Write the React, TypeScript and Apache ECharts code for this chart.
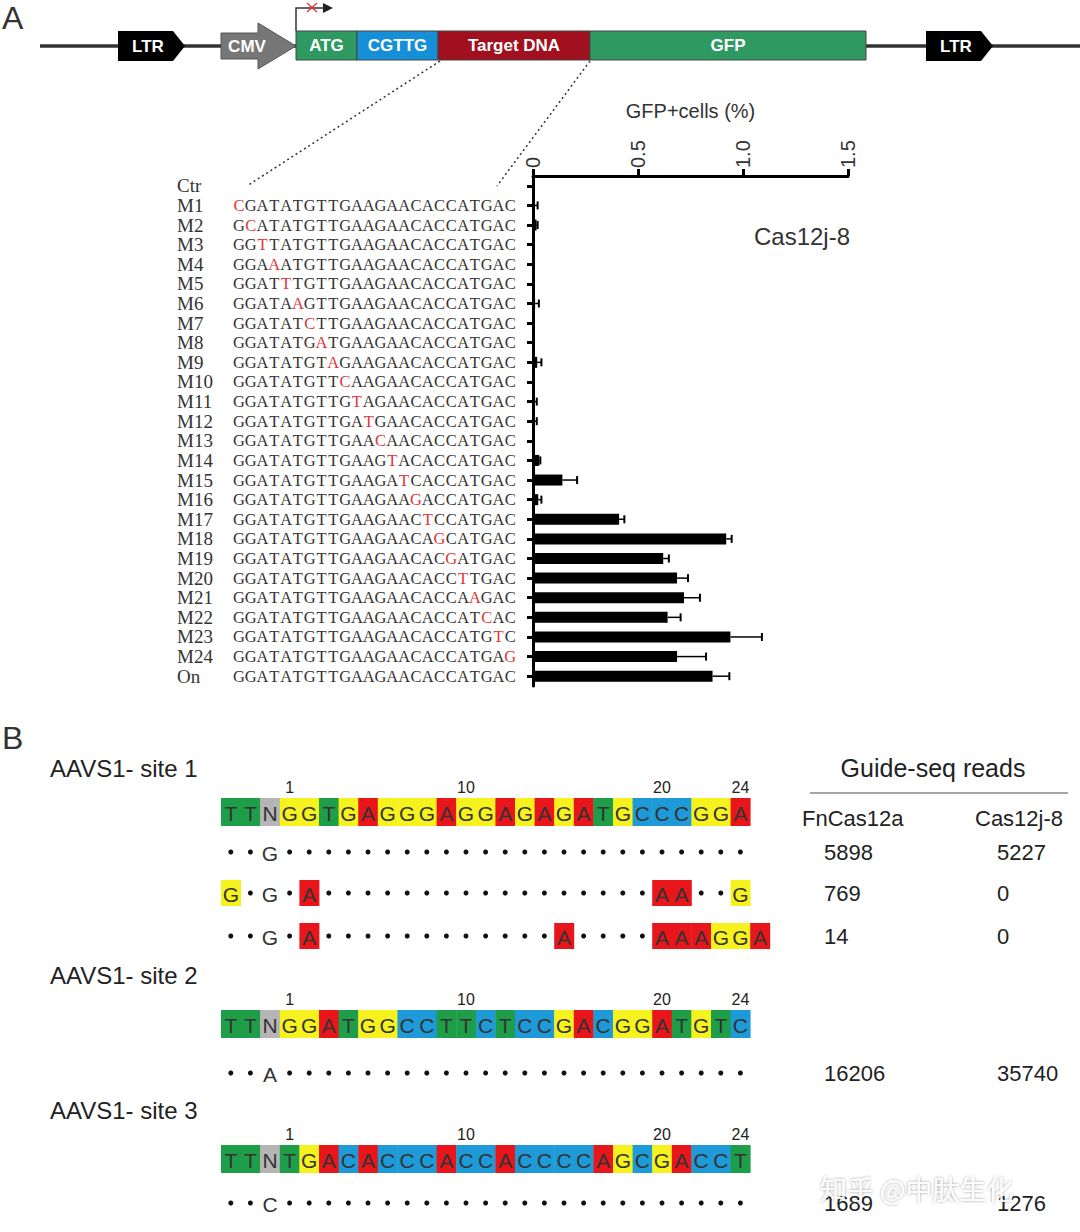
import React, { useEffect, useRef } from "react";
import * as echarts from "echarts";

// ---------- Panel A data ----------
const categories = ["Ctr", "M1", "M2", "M3", "M4", "M5", "M6", "M7", "M8", "M9", "M10", "M11", "M12", "M13", "M14", "M15", "M16", "M17", "M18", "M19", "M20", "M21", "M22", "M23", "M24", "On"];
const sequences = [
  "",
  "CGATATGTTGAAGAACACCATGAC",
  "GCATATGTTGAAGAACACCATGAC",
  "GGTTATGTTGAAGAACACCATGAC",
  "GGAAATGTTGAAGAACACCATGAC",
  "GGATTTGTTGAAGAACACCATGAC",
  "GGATAAGTTGAAGAACACCATGAC",
  "GGATATCTTGAAGAACACCATGAC",
  "GGATATGATGAAGAACACCATGAC",
  "GGATATGTAGAAGAACACCATGAC",
  "GGATATGTTCAAGAACACCATGAC",
  "GGATATGTTGTAGAACACCATGAC",
  "GGATATGTTGATGAACACCATGAC",
  "GGATATGTTGAACAACACCATGAC",
  "GGATATGTTGAAGTACACCATGAC",
  "GGATATGTTGAAGATCACCATGAC",
  "GGATATGTTGAAGAAGACCATGAC",
  "GGATATGTTGAAGAACTCCATGAC",
  "GGATATGTTGAAGAACAGCATGAC",
  "GGATATGTTGAAGAACACGATGAC",
  "GGATATGTTGAAGAACACCTTGAC",
  "GGATATGTTGAAGAACACCAAGAC",
  "GGATATGTTGAAGAACACCATCAC",
  "GGATATGTTGAAGAACACCATGTC",
  "GGATATGTTGAAGAACACCATGAG",
  "GGATATGTTGAAGAACACCATGAC",
];
const mismatchPos = [0, 1, 2, 3, 4, 5, 6, 7, 8, 9, 10, 11, 12, 13, 14, 15, 16, 17, 18, 19, 20, 21, 22, 23, 24, 0];
const gfpValues = [0.003, 0.005, 0.017, 0.005, 0.005, 0.004, 0.01, 0.003, 0.003, 0.02, 0.003, 0.005, 0.005, 0.002, 0.03, 0.14, 0.025, 0.41, 0.92, 0.62, 0.686, 0.719, 0.641, 0.94, 0.686, 0.855];
const gfpErrors = [0, 0.017, 0.005, 0, 0, 0, 0.018, 0, 0, 0.02, 0, 0.013, 0.013, 0, 0.005, 0.07, 0.015, 0.025, 0.026, 0.027, 0.052, 0.076, 0.062, 0.15, 0.138, 0.08];
const xTickMax = 1.5;
const xTickStep = 0.5;

// ---------- Panel B data ----------
const siteNames = ["AAVS1- site 1", "AAVS1- site 2", "AAVS1- site 3"];
const siteSeqs = [
  "TTNGGTGAGGGAGGAGAGATGCCCGGA",
  "TTNGGATGGCCTTCTCCGACGGATGTC",
  "TTNTGACACCCACCACCCCAGCGACCT",
];
const siteVariants = [
  [
    "..G" + "........................",
    "G.G.A" + "................." + "AA..G",
    "..G.A" + "............" + "A" + "...." + "AAAGGA",
  ],
  ["..A" + "........................"],
  ["..C" + "........................"],
];
const fnCas12aReads = [[5898, 769, 14], [16206], [1689]];
const cas12j8Reads = [[5227, 0, 0], [35740], [1276]];
const positionLabels = [1, 10, 20, 24];

// ---------- layout ----------
const SANS = "'Liberation Sans', Arial, sans-serif";
const SERIF = "'Liberation Serif', 'DejaVu Serif', serif";
const baseColors: Record<string, string> = {
  T: "#1e9e48",
  N: "#b5b5b5",
  G: "#f6f21e",
  A: "#e8161b",
  C: "#1e9ad8",
};
const siteLayout = [
  { title: 768, nums: 787, seq: 812, rows: [852, 893, 936] },
  { title: 975, nums: 999, seq: 1024, rows: [1073] },
  { title: 1110, nums: 1134, seq: 1159, rows: [1203] },
];

function txt(x: number, y: number, text: string, opt: any = {}) {
  const align = opt.align || "left";
  const valign = opt.valign || "middle";
  return {
    type: "text",
    x,
    y,
    z: opt.z ?? 10,
    style: {
      text,
      fill: opt.fill || "#222",
      fontSize: opt.fontSize || 16,
      fontFamily: opt.fontFamily || SANS,
      fontWeight: opt.fontWeight || "normal",
      align,
      verticalAlign: valign,
      textAlign: align,
      textVerticalAlign: valign,
      stroke: opt.stroke,
      lineWidth: opt.lineWidth,
      textShadowColor: opt.shadowColor,
      textShadowBlur: opt.shadowBlur,
    },
  };
}

function buildGraphics() {
  const g: any[] = [];
  // Panel letters
  g.push(txt(2, 18, "A", { fontSize: 32, fill: "#333" }));
  g.push(txt(2, 738, "B", { fontSize: 32, fill: "#333" }));

  // Construct backbone
  g.push({ type: "line", shape: { x1: 40, y1: 46, x2: 1080, y2: 46 }, style: { stroke: "#333", lineWidth: 3.5 } });
  const ltr = (x: number) => {
    g.push({ type: "polygon", shape: { points: [[x, 31], [x + 55, 31], [x + 67, 46], [x + 55, 61], [x, 61]] }, style: { fill: "#000" } });
    g.push(txt(x + 30, 46, "LTR", { fill: "#fff", fontSize: 17, fontWeight: "bold", align: "center" }));
  };
  ltr(118);
  ltr(926);
  g.push({
    type: "polygon",
    shape: { points: [[221, 33], [258, 33], [258, 23], [296, 46], [258, 69], [258, 59], [221, 59]] },
    style: { fill: "#777", stroke: "#555", lineWidth: 1 },
  });
  g.push(txt(247, 46, "CMV", { fill: "#fff", fontSize: 17, fontWeight: "bold", align: "center" }));
  const boxes = [
    { x: 296, w: 61, fill: "#2e9a62", label: "ATG" },
    { x: 357, w: 81, fill: "#1590d8", label: "CGTTG" },
    { x: 438, w: 152, fill: "#a0101e", label: "Target DNA" },
    { x: 590, w: 276, fill: "#2e9a62", label: "GFP" },
  ];
  boxes.forEach((b) => {
    g.push({ type: "rect", shape: { x: b.x, y: 31, width: b.w, height: 29 }, style: { fill: b.fill, stroke: "#444", lineWidth: 1 } });
    g.push(txt(b.x + b.w / 2, 45.5, b.label, { fill: "#fff", fontSize: 17, fontWeight: "bold", align: "center" }));
  });
  // promoter arrow
  g.push({ type: "polyline", shape: { points: [[296, 31], [296, 8], [324, 8]] }, style: { stroke: "#333", lineWidth: 1.5, fill: null } });
  g.push({ type: "polygon", shape: { points: [[323, 3], [333, 8], [323, 13]] }, style: { fill: "#222" } });
  g.push({ type: "line", shape: { x1: 307, y1: 3, x2: 317, y2: 12 }, style: { stroke: "#e03030", lineWidth: 1.2 } });
  g.push({ type: "line", shape: { x1: 317, y1: 3, x2: 307, y2: 12 }, style: { stroke: "#e03030", lineWidth: 1.2 } });
  // dotted zoom lines
  g.push({ type: "line", shape: { x1: 440, y1: 61, x2: 247, y2: 186 }, style: { stroke: "#333", lineWidth: 1.5, lineDash: [2, 3] } });
  g.push({ type: "line", shape: { x1: 590, y1: 61, x2: 497, y2: 186 }, style: { stroke: "#333", lineWidth: 1.5, lineDash: [2, 3] } });
  // Cas12j-8 label
  g.push(txt(850, 236, "Cas12j-8", { fontSize: 24, fill: "#333", align: "right" }));

  // Panel B
  const x0 = 221;
  const cw = 19.6;
  siteNames.forEach((name, s) => {
    const L = siteLayout[s];
    g.push(txt(50, L.title, name, { fontSize: 24, fill: "#222" }));
    positionLabels.forEach((p) => {
      g.push(txt(x0 + (p + 2) * cw + cw / 2, L.nums, String(p), { fontSize: 16, align: "center" }));
    });
    const seq = siteSeqs[s];
    for (let i = 0; i < seq.length; i++) {
      const ch = seq[i];
      g.push({ type: "rect", shape: { x: x0 + i * cw, y: L.seq - 14, width: cw + 0.4, height: 28 }, style: { fill: baseColors[ch] } });
      g.push(txt(x0 + i * cw + cw / 2, L.seq + 1, ch, { fontSize: 21, fill: "#333", align: "center" }));
    }
    siteVariants[s].forEach((row, r) => {
      const cy = L.rows[r];
      for (let i = 0; i < row.length; i++) {
        const ch = row[i];
        const cx = x0 + i * cw + cw / 2;
        if (ch === ".") {
          g.push({ type: "circle", shape: { cx, cy, r: 2.5 }, style: { fill: "#111" } });
        } else if (i === 2) {
          g.push(txt(cx, cy + 1, ch, { fontSize: 21, fill: "#333", align: "center" }));
        } else {
          g.push({ type: "rect", shape: { x: x0 + i * cw, y: cy - 13, width: cw + 0.4, height: 26 }, style: { fill: baseColors[ch] } });
          g.push(txt(cx, cy + 1, ch, { fontSize: 21, fill: "#333", align: "center" }));
        }
      }
      g.push(txt(824, cy, String(fnCas12aReads[s][r]), { fontSize: 22, fill: "#222" }));
      g.push(txt(997, cy, String(cas12j8Reads[s][r]), { fontSize: 22, fill: "#222" }));
    });
  });
  // Table header
  g.push(txt(933, 768, "Guide-seq reads", { fontSize: 25, fill: "#222", align: "center" }));
  g.push({ type: "line", shape: { x1: 810, y1: 793, x2: 1068, y2: 793 }, style: { stroke: "#888", lineWidth: 1.5 } });
  g.push(txt(802, 818, "FnCas12a", { fontSize: 22, fill: "#222" }));
  g.push(txt(975, 818, "Cas12j-8", { fontSize: 22, fill: "#222" }));
  // watermark
  g.push(
    txt(820, 1188, "知乎 @中肽生化", {
      fontSize: 27,
      fontFamily: "'Noto Sans CJK SC', sans-serif",
      fill: "rgba(255,255,255,0.88)",
      shadowColor: "rgba(0,0,0,0.45)",
      shadowBlur: 3,
      z: 20,
    })
  );
  return g;
}

function yLabelFormatter(value: string, idx: number) {
  let s = `{n|${value}}`;
  const seq = sequences[idx] || "";
  const mp = mismatchPos[idx];
  for (let i = 0; i < seq.length; i++) {
    s += i + 1 === mp ? `{r|${seq[i]}}` : `{c|${seq[i]}}`;
  }
  return s;
}

export default function App() {
  const ref = useRef<HTMLDivElement>(null);
  useEffect(() => {
    if (!ref.current) return;
    const chart = echarts.init(ref.current, undefined, { renderer: "svg" });
    const charStyle = { fontFamily: SERIF, fontSize: 16.5, color: "#333", width: 11.8, align: "center", lineHeight: 19 };
    const option: any = {
      animation: false,
      backgroundColor: "#fff",
      grid: { left: 533, top: 176, width: 315, height: 510, containLabel: false },
      xAxis: {
        type: "value",
        position: "top",
        min: 0,
        max: xTickMax,
        interval: xTickStep,
        name: "GFP+cells (%)",
        nameLocation: "middle",
        nameGap: 55,
        nameTextStyle: { fontSize: 20, color: "#333", fontFamily: SANS },
        axisLine: { show: true, lineStyle: { color: "#000", width: 3 } },
        axisTick: { show: true, length: 7, lineStyle: { color: "#000", width: 3 } },
        axisLabel: {
          rotate: -90,
          fontSize: 20,
          color: "#333",
          fontFamily: SANS,
          margin: 8,
          formatter: (v: number) => (v === 0 ? "0" : v.toFixed(1)),
        },
        splitLine: { show: false },
      },
      yAxis: {
        type: "category",
        inverse: true,
        data: categories,
        axisLine: { show: true, lineStyle: { color: "#000", width: 3 } },
        axisTick: { show: true, alignWithLabel: true, length: 6, lineStyle: { color: "#000", width: 3 } },
        axisLabel: {
          interval: 0,
          align: "left",
          margin: 356,
          formatter: yLabelFormatter,
          rich: {
            n: { fontFamily: SERIF, fontSize: 19, color: "#333", width: 56, align: "left", lineHeight: 19 },
            c: charStyle,
            r: { ...charStyle, color: "#e0353a" },
          },
        },
      },
      series: [
        {
          type: "bar",
          data: gfpValues,
          barWidth: 11,
          itemStyle: { color: "#000" },
          z: 2,
        },
        {
          type: "custom",
          encode: { x: 0, y: 1 },
          data: gfpValues.map((v, i) => [v, i, gfpErrors[i]]),
          z: 3,
          renderItem: (_p: any, api: any) => {
            const v = api.value(0);
            const cat = api.value(1);
            const e = api.value(2);
            if (!e) return { type: "group", children: [] };
            const p1 = api.coord([v, cat]);
            const p2 = api.coord([v + e, cat]);
            return {
              type: "group",
              children: [
                { type: "line", shape: { x1: p1[0], y1: p1[1], x2: p2[0], y2: p2[1] }, style: { stroke: "#000", lineWidth: 1.5 } },
                { type: "line", shape: { x1: p2[0], y1: p2[1] - 4, x2: p2[0], y2: p2[1] + 4 }, style: { stroke: "#000", lineWidth: 2 } },
              ],
            };
          },
        },
      ],
      graphic: { elements: buildGraphics() },
    };
    chart.setOption(option);
    return () => chart.dispose();
  }, []);
  return <div ref={ref} style={{ position: "fixed", left: 0, top: 0, width: 1080, height: 1232, background: "#fff" }} />;
}
